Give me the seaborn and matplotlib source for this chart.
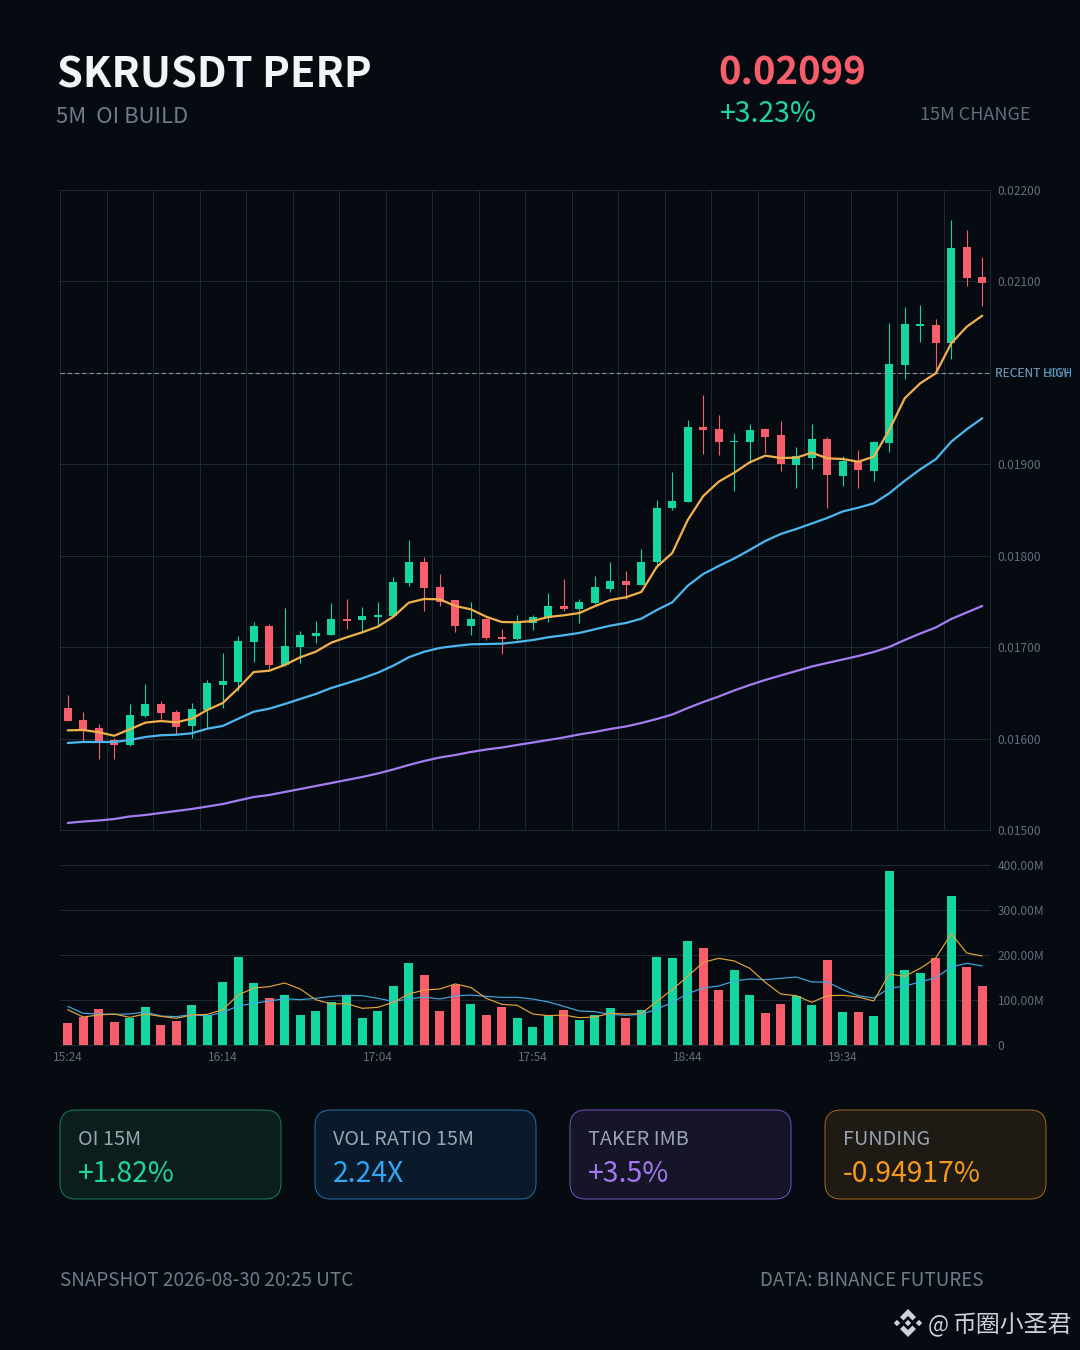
# skrusdt_perp_card.py

import numpy as np
import pandas as pd
import matplotlib
matplotlib.use("Agg")
import matplotlib.pyplot as plt
from matplotlib.patches import FancyBboxPatch, Polygon
import seaborn as sns

# prices are written in units of 0.00001
opens = [1633.1, 1620.3, 1611.9, 1598.4, 1593.3, 1624.7, 1637.5, 1629.4, 1613.8, 1631.3,
         1658.9, 1661.9, 1705.6, 1722.8, 1680.1, 1700.5, 1712.5, 1713.6, 1730.8, 1730.0,
         1732.6, 1734.1, 1770.5, 1792.8, 1765.5, 1751.2, 1723.5, 1730.5, 1711.1, 1708.9,
         1726.7, 1731.9, 1745.3, 1741.7, 1748.0, 1763.9, 1772.3, 1768.3, 1792.8, 1852.5,
         1859.1, 1940.5, 1938.3, 1924.0, 1924.4, 1938.3, 1931.7, 1899.2, 1907.2, 1928.0,
         1887.5, 1902.8, 1893.0, 1923.6, 2008.9, 2051.6, 2052.3, 2033.0, 2138.0, 2104.8]
closes = [1619.2, 1609.4, 1597.3, 1593.3, 1625.5, 1637.5, 1628.3, 1613.0, 1632.0, 1660.5,
          1663.0, 1707.0, 1722.8, 1680.5, 1701.6, 1713.3, 1715.1, 1730.5, 1728.9, 1733.7,
          1735.5, 1771.6, 1792.8, 1765.0, 1749.7, 1723.5, 1730.5, 1710.3, 1708.6, 1727.2,
          1732.6, 1745.3, 1741.7, 1749.0, 1765.5, 1772.3, 1767.6, 1793.5, 1852.2, 1859.8,
          1940.5, 1937.2, 1924.4, 1925.5, 1937.5, 1930.2, 1900.0, 1908.7, 1927.3, 1888.3,
          1903.6, 1893.8, 1924.4, 2009.7, 2053.1, 2053.1, 2032.7, 2136.6, 2103.8, 2098.6]
highs = [1648.0, 1628.7, 1615.6, 1600.3, 1637.8, 1659.7, 1641.4, 1631.3, 1638.9, 1664.1,
         1693.9, 1712.2, 1727.5, 1725.0, 1742.5, 1717.7, 1728.6, 1748.0, 1752.7, 1743.6,
         1749.4, 1776.4, 1817.2, 1798.6, 1780.3, 1751.6, 1749.0, 1732.2, 1719.8, 1735.2,
         1734.8, 1758.9, 1774.5, 1753.0, 1778.1, 1792.8, 1783.6, 1807.7, 1860.9, 1891.2,
         1948.4, 1975.5, 1953.9, 1933.9, 1944.1, 1939.4, 1947.3, 1918.6, 1944.1, 1930.2,
         1909.4, 1915.6, 1925.5, 2054.5, 2071.7, 2074.2, 2058.6, 2167.2, 2156.3, 2127.0]
lows = [1619.2, 1597.3, 1577.7, 1577.3, 1591.9, 1623.3, 1621.1, 1605.0, 1600.6, 1612.3,
        1633.4, 1652.4, 1683.4, 1675.8, 1679.4, 1682.7, 1704.9, 1713.6, 1720.2, 1717.7,
        1724.5, 1733.3, 1766.9, 1739.2, 1745.3, 1716.6, 1713.3, 1707.8, 1692.5, 1707.8,
        1718.8, 1727.5, 1739.9, 1726.7, 1746.9, 1760.0, 1752.3, 1767.6, 1787.3, 1850.0,
        1859.1, 1911.3, 1910.2, 1871.1, 1901.1, 1912.7, 1892.7, 1874.4, 1895.2, 1851.9,
        1876.6, 1874.4, 1881.7, 1913.1, 1993.3, 2033.8, 2003.1, 2015.2, 2095.0, 2073.1]

ma_fast = [1609.0, 1609.4, 1606.9, 1603.1, 1610.1, 1617.4, 1619.2, 1617.8, 1621.7, 1631.3,
           1638.9, 1655.0, 1672.8, 1674.2, 1680.5, 1688.9, 1695.0, 1704.9, 1710.8, 1716.2,
           1722.4, 1733.3, 1748.6, 1752.7, 1752.3, 1745.0, 1741.4, 1733.3, 1727.5, 1727.2,
           1728.6, 1733.0, 1734.8, 1737.3, 1744.7, 1751.6, 1754.5, 1760.3, 1787.7, 1803.0,
           1839.1, 1865.3, 1881.0, 1890.8, 1902.2, 1909.4, 1906.9, 1907.2, 1912.7, 1906.5,
           1905.8, 1902.8, 1908.3, 1937.5, 1972.2, 1988.6, 1999.5, 2032.3, 2050.5, 2062.5]
ma_mid = [1595.2, 1596.3, 1596.3, 1596.3, 1598.4, 1601.7, 1603.6, 1604.2, 1605.8, 1610.8,
          1613.8, 1621.7, 1629.4, 1632.7, 1637.8, 1643.3, 1648.8, 1655.3, 1660.5, 1665.9,
          1672.0, 1679.7, 1688.9, 1695.0, 1699.1, 1701.3, 1703.1, 1703.4, 1703.8, 1705.6,
          1707.8, 1710.8, 1713.0, 1715.5, 1719.5, 1723.5, 1726.4, 1731.1, 1740.6, 1749.0,
          1767.2, 1780.0, 1788.8, 1797.0, 1806.3, 1816.1, 1823.8, 1829.2, 1835.2, 1841.3,
          1848.4, 1852.5, 1857.3, 1868.3, 1882.0, 1894.5, 1905.5, 1924.7, 1938.3, 1950.3]
ma_slow = [1507.7, 1509.3, 1510.4, 1512.0, 1514.8, 1516.4, 1518.6, 1520.8, 1523.0, 1525.7,
           1528.4, 1532.3, 1536.1, 1538.3, 1541.6, 1544.8, 1548.1, 1551.4, 1554.7, 1558.0,
           1561.8, 1566.2, 1571.1, 1575.5, 1579.3, 1582.0, 1585.3, 1588.0, 1590.2, 1593.0,
           1595.7, 1598.4, 1601.2, 1604.5, 1607.2, 1610.5, 1613.2, 1617.0, 1621.4, 1626.3,
           1633.4, 1640.0, 1646.0, 1652.6, 1658.6, 1664.1, 1669.0, 1673.9, 1678.8, 1682.7,
           1686.5, 1690.3, 1694.7, 1700.2, 1707.8, 1714.9, 1721.5, 1730.8, 1737.9, 1745.0]

# volume in millions
volume = [48.9, 62.2, 80.0, 51.9, 60.0, 85.2, 45.2, 54.1, 88.9, 65.9,
          140.0, 195.6, 137.8, 105.2, 111.1, 65.9, 74.8, 94.8, 110.4, 60.0,
          75.6, 131.9, 182.2, 155.6, 76.3, 134.1, 91.9, 67.4, 85.2, 60.7,
          40.0, 66.7, 78.5, 56.3, 66.7, 83.0, 60.7, 78.5, 196.3, 192.6,
          231.9, 216.3, 123.0, 166.7, 111.1, 71.1, 91.1, 108.1, 88.9, 189.6,
          74.1, 72.6, 65.2, 385.9, 165.9, 159.3, 194.1, 331.9, 172.6, 130.4]
vol_side = list("RRRRGGRRGG" "GGGRGGGGGG" "GGGRRRGRRG" "GGRGGGRGGG" "GRRGGRRGGR" "GRGGGGRGRR")
vol_fast = [78.5, 62.2, 66.7, 68.9, 61.5, 68.9, 63.7, 59.3, 66.7, 68.1,
            78.5, 111.1, 126.7, 129.6, 137.8, 124.4, 100.7, 91.1, 91.9, 81.5,
            83.7, 94.8, 113.3, 122.2, 124.4, 135.6, 128.1, 103.7, 90.4, 88.1,
            68.9, 65.2, 66.7, 60.7, 62.2, 70.4, 68.9, 69.6, 97.0, 123.0,
            152.6, 183.7, 192.6, 186.7, 170.4, 139.3, 113.3, 109.6, 94.8, 109.6,
            110.4, 106.7, 97.8, 157.8, 152.6, 170.4, 193.3, 247.4, 204.4, 197.8]
vol_slow = [85.9, 70.4, 68.9, 68.1, 68.9, 73.3, 64.4, 63.0, 67.4, 64.4,
            72.6, 86.7, 92.6, 97.8, 103.0, 100.7, 103.7, 108.1, 110.4, 109.6,
            103.7, 97.0, 102.2, 106.7, 102.2, 108.9, 111.1, 108.1, 105.9, 105.9,
            102.2, 95.6, 85.9, 75.6, 74.1, 68.1, 65.9, 68.1, 79.3, 94.8,
            114.1, 126.7, 131.1, 142.2, 146.7, 145.2, 148.1, 151.1, 140.0, 140.0,
            123.0, 109.6, 104.4, 125.9, 131.1, 140.0, 149.6, 173.3, 181.5, 175.6]

time_labels = ["15:24", "16:14", "17:04", "17:54", "18:44", "19:34"]
time_every = 10
price_ticks = [0.015, 0.016, 0.017, 0.018, 0.019, 0.020, 0.021, 0.022]
price_labels = ["0.01500", "0.01600", "0.01700", "0.01800", "0.01900", "", "0.02100", "0.02200"]
vol_ticks = [0, 100, 200, 300, 400]
vol_labels = ["0", "100.00M", "200.00M", "300.00M", "400.00M"]
level_price = 0.020

card_titles = ["OI 15M", "VOL RATIO 15M", "TAKER IMB", "FUNDING"]
card_values = ["+1.82%", "2.24X", "+3.5%", "-0.94917%"]

BG = "#060B12"
GRID = "#1E2937"
UP = "#14D6A0"
DOWN = "#F75D6B"
TICK = "#626D7D"

sns.set_theme(style="dark", rc={"figure.facecolor": BG, "axes.facecolor": BG})
plt.rcParams["font.family"] = ["Noto Sans CJK SC", "DejaVu Sans"]

n = len(opens)
df = pd.DataFrame({
    "i": np.arange(n),
    "open": np.array(opens) / 1e5,
    "close": np.array(closes) / 1e5,
    "high": np.array(highs) / 1e5,
    "low": np.array(lows) / 1e5,
    "ma_fast": np.array(ma_fast) / 1e5,
    "ma_mid": np.array(ma_mid) / 1e5,
    "ma_slow": np.array(ma_slow) / 1e5,
    "volume": volume,
    "side": vol_side,
    "vol_fast": vol_fast,
    "vol_slow": vol_slow,
})

W, H = 1080, 1350
fig = plt.figure(figsize=(10.8, 13.5), dpi=100, facecolor=BG)


def axes_px(left, top, right, bottom):
    return fig.add_axes([left / W, 1 - bottom / H, (right - left) / W, (bottom - top) / H])


# price panel
ax = axes_px(60, 190, 990, 830)
ax.set_xlim(-0.5, n - 0.5)
ax.set_ylim(0.015, 0.022)
ax.set_xticks(np.arange(-0.5, n, 3))
ax.set_yticks(price_ticks)
ax.set_yticklabels(price_labels)
ax.grid(True, color=GRID, lw=0.75)
ax.set_axisbelow(True)
ax.yaxis.tick_right()
ax.tick_params(axis="x", length=0, labelbottom=False)
ax.tick_params(axis="y", length=0, pad=5.5, labelsize=8.6, labelcolor=TICK)
for s in ax.spines.values():
    s.set_color(GRID)
    s.set_linewidth(0.75)

colors = np.where(df["close"] >= df["open"], UP, DOWN)
ax.vlines(df["i"], df["low"], df["high"], colors=colors, lw=0.8, zorder=2)
ax.bar(df["i"], (df["close"] - df["open"]).abs(), bottom=df[["open", "close"]].min(axis=1),
       width=0.52, color=colors, linewidth=0, zorder=3)
ax.axhline(level_price, color="#8A96A6", lw=0.8, ls=(0, (4, 2.5)), zorder=3)

for col, c in [("ma_slow", "#A67CF2"), ("ma_mid", "#4DB8F0"), ("ma_fast", "#F2B14C")]:
    sns.lineplot(data=df, x="i", y=col, color=c, lw=1.6, ax=ax, zorder=4)
ax.set_xlabel("")
ax.set_ylabel("")
# the two level tags sit on top of each other in the reference
ax.text(1.0055, (level_price - 0.015) / 0.007 - 0.0015, "RECENT HIGH", transform=ax.transAxes,
        color="#3FA9E6", fontsize=8.6, va="center", ha="left")
ax.text(1.0055, (level_price - 0.015) / 0.007 - 0.0015, "RECENT LOW", transform=ax.transAxes,
        color="#7C8796", fontsize=8.6, va="center", ha="left", alpha=0.8)

# volume panel
vx = axes_px(60, 865, 990, 1045)
sns.barplot(data=df, x="i", y="volume", hue="side", palette={"G": UP, "R": DOWN},
            native_scale=True, dodge=False, width=0.56, linewidth=0, saturation=1, legend=False,
            ax=vx, zorder=3)
sns.lineplot(data=df, x="i", y="vol_slow", color="#42A9E2", lw=0.85, ax=vx, zorder=4)
sns.lineplot(data=df, x="i", y="vol_fast", color="#E6A23A", lw=0.85, ax=vx, zorder=5)
vx.set_xlim(-0.5, n - 0.5)
vx.set_ylim(0, 400)
vx.set_xlabel("")
vx.set_ylabel("")
vx.set_xticks(np.arange(len(time_labels)) * time_every)
vx.set_xticklabels(time_labels)
vx.set_yticks(vol_ticks)
vx.set_yticklabels(vol_labels)
vx.grid(True, axis="y", color=GRID, lw=0.75)
vx.grid(False, axis="x")
vx.set_axisbelow(True)
vx.yaxis.tick_right()
vx.tick_params(axis="both", length=0, labelsize=8.6, labelcolor=TICK)
vx.tick_params(axis="y", pad=5.5)
vx.tick_params(axis="x", pad=4)
for name, s in vx.spines.items():
    s.set_visible(name == "bottom")
    s.set_color(GRID)
    s.set_linewidth(0.75)

# page furniture, drawn in pixel coordinates
page = fig.add_axes([0, 0, 1, 1], zorder=10)
page.set_xlim(0, W)
page.set_ylim(H, 0)
page.axis("off")
page.patch.set_alpha(0)


def label(x, y, s, size, color, **kw):
    page.text(x, y, s, fontsize=size, color=color, va="baseline", **kw)


label(57, 87.5, "SKRUSDT PERP", 30, "#F2F5F8", fontweight="bold")
label(56, 123, "5M  OI BUILD", 15.9, "#707B8C")
label(718.5, 84.5, "0.02099", 27.6, DOWN, fontweight="bold")
label(720, 122, "+3.23%", 20.4, "#1FD69E")
label(920, 120.5, "15M CHANGE", 13, "#626D7D")

card_x = [60, 315, 570, 825]
card_face = ["#0C1E1C", "#0B1A2A", "#151527", "#1F1A14"]
card_edge = ["#157A58", "#1F6AA0", "#6B50B0", "#9A6418"]
card_text = ["#22D69A", "#2FA8F5", "#A178F0", "#F59A1B"]
for x, t, v, f, e, c in zip(card_x, card_titles, card_values, card_face, card_edge, card_text):
    page.add_patch(FancyBboxPatch((x, 1110), 221, 89, boxstyle="round,pad=0,rounding_size=16",
                                  fc=f, ec=e, lw=0.75))
    label(x + 18, 1145, t, 14.3, "#98A3B3")
    label(x + 18, 1182, v, 20.4, c)

label(60, 1286, "SNAPSHOT 2026-08-30 20:25 UTC", 13.6, "#707B8C")
label(760, 1286, "DATA: BINANCE FUTURES", 13.55, "#707B8C")

# watermark
MARK = "#CDD0D5"
cx, cy = 908, 1323
logo = [
    [(0, -14), (8, -6), (4.5, -2.5), (0, -7), (-4.5, -2.5), (-8, -6)],
    [(0, 14), (8, 6), (4.5, 2.5), (0, 7), (-4.5, 2.5), (-8, 6)],
    [(0, -3.2), (3.2, 0), (0, 3.2), (-3.2, 0)],
    [(-11, -3.2), (-7.8, 0), (-11, 3.2), (-14.2, 0)],
    [(11, -3.2), (14.2, 0), (11, 3.2), (7.8, 0)],
]
for pts in logo:
    page.add_patch(Polygon([(cx + a, cy + b) for a, b in pts], fc=MARK, ec="none"))
label(927.5, 1331, "@", 16, MARK)
label(952, 1332, "币圈小圣君", 17.2, MARK)

fig.savefig("out.png", dpi=100, facecolor=BG)
